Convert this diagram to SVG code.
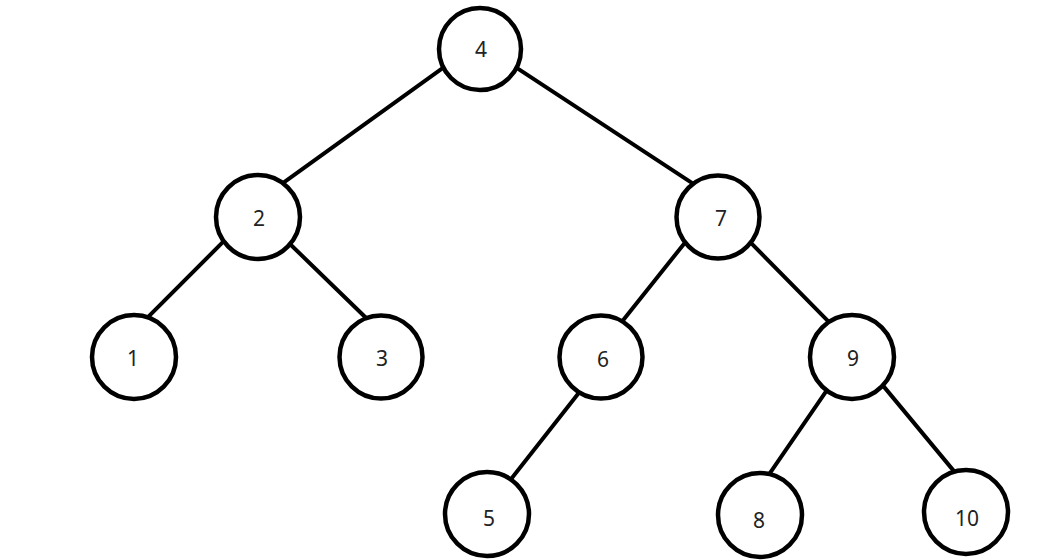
<svg xmlns="http://www.w3.org/2000/svg" width="1055" height="560" viewBox="0 0 1055 560">
<style>
.n circle{fill:#fff;stroke:#000;stroke-width:4.5}
.n text{font-family:"Noto Sans","Open Sans","DejaVu Sans",sans-serif;font-size:21px;fill:#222;text-anchor:middle}
#edges line{stroke:#000;stroke-width:4;stroke-linecap:round}
</style>
<rect width="1055" height="560" fill="#fff"/>
<g id="edges">
<line x1="443.3" y1="67.7" x2="279.7" y2="185.3"/>
<line x1="516.7" y1="67.8" x2="695.3" y2="185.2"/>
<line x1="224.8" y1="240.2" x2="147.2" y2="317.8"/>
<line x1="287.1" y1="241.2" x2="365.9" y2="317.8"/>
<line x1="685.5" y1="241.9" x2="622.5" y2="321.1"/>
<line x1="750.2" y1="242.2" x2="829.8" y2="322.8"/>
<line x1="579.5" y1="391.9" x2="509.5" y2="481.1"/>
<line x1="827.3" y1="389.7" x2="767.7" y2="476.3"/>
<line x1="882.4" y1="384.9" x2="955.6" y2="473.1"/>
</g>
<g id="n4" class="n"><circle cx="480" cy="49" r="41"/><text x="481" y="57">4</text></g>
<g id="n2" class="n"><circle cx="258" cy="217" r="42"/><text x="259" y="226">2</text></g>
<g id="n7" class="n"><circle cx="718" cy="217" r="41.5"/><text x="721" y="226">7</text></g>
<g id="n1" class="n"><circle cx="134" cy="357" r="42"/><text x="133" y="366">1</text></g>
<g id="n3" class="n"><circle cx="381" cy="357" r="41.5"/><text x="382" y="366">3</text></g>
<g id="n6" class="n"><circle cx="601" cy="357" r="41.5"/><text x="603" y="367">6</text></g>
<g id="n9" class="n"><circle cx="852" cy="357" r="42"/><text x="853" y="366">9</text></g>
<g id="n5" class="n"><circle cx="487" cy="514" r="42"/><text x="489" y="526">5</text></g>
<g id="n8" class="n"><circle cx="760" cy="515" r="42"/><text x="759" y="528">8</text></g>
<g id="n10" class="n"><circle cx="966" cy="512" r="42"/><text x="967" y="526">10</text></g>
</svg>
